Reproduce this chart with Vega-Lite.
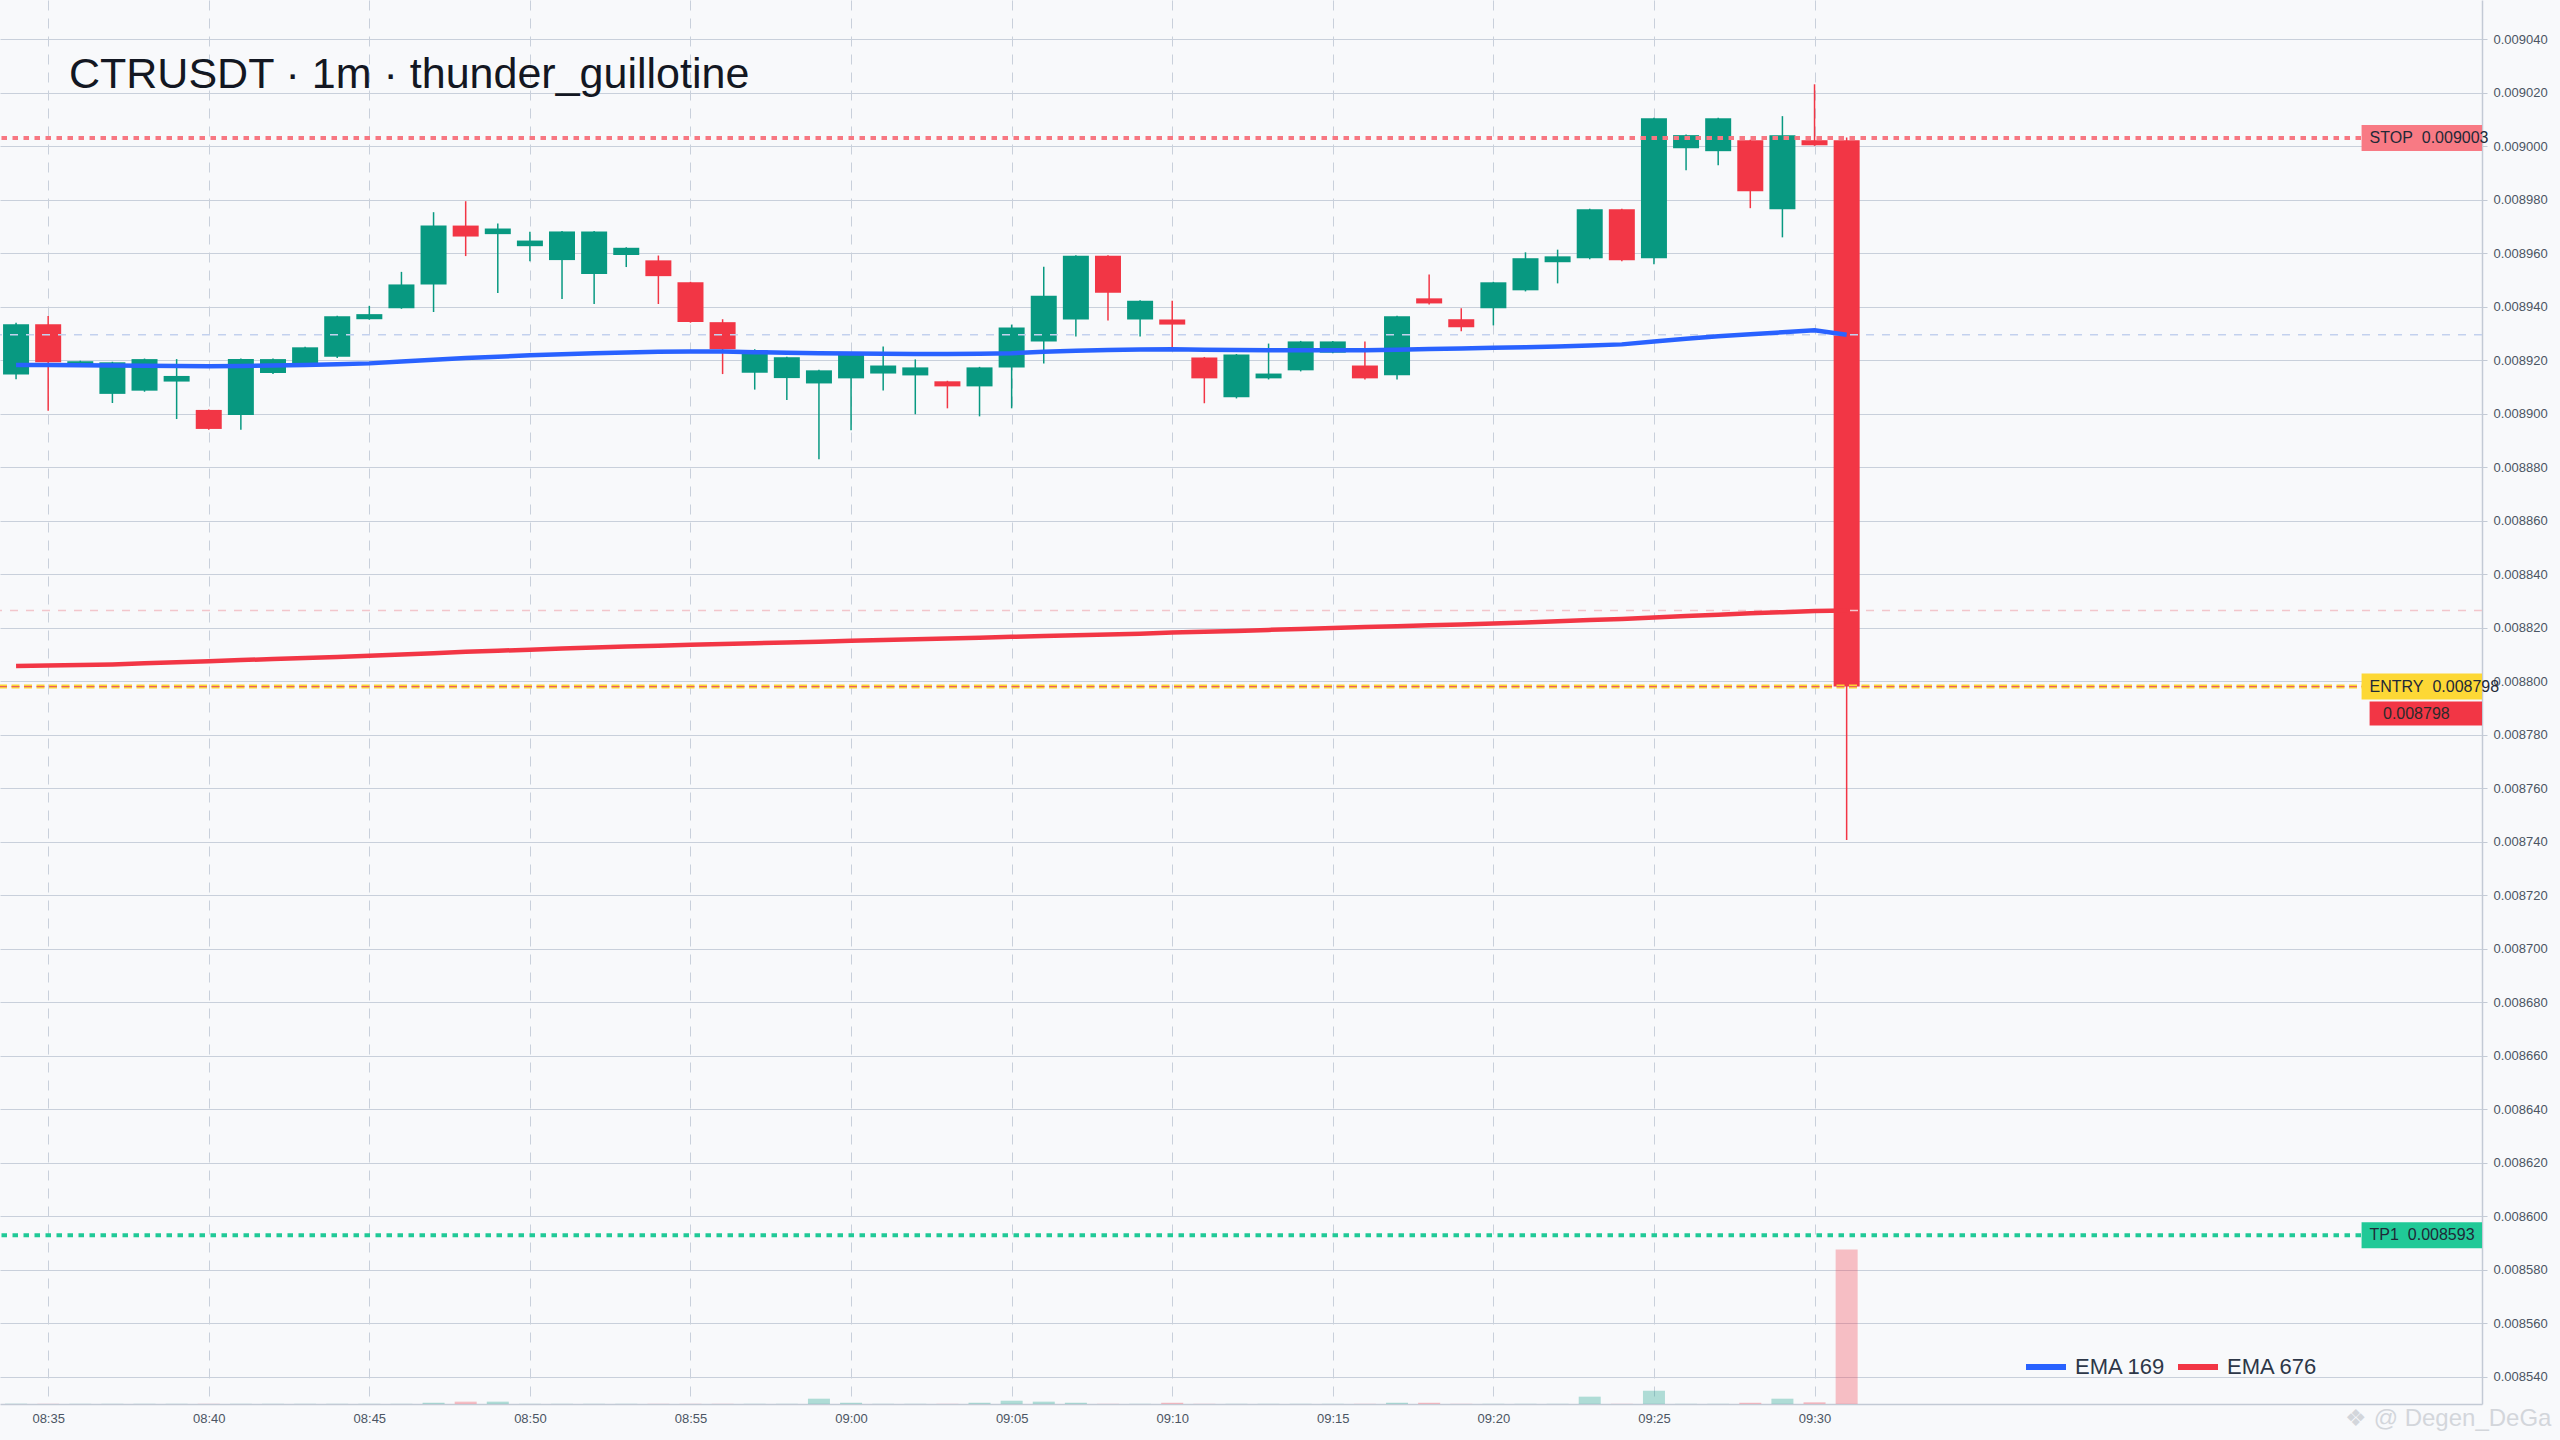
{
  "$schema": "https://vega.github.io/schema/vega-lite/v6.json",
  "width": 2482,
  "height": 1404,
  "autosize": {"type": "none"},
  "padding": {"left": 0, "top": 0, "right": 78, "bottom": 36},
  "background": "#f8f9fb",
  "title": {
    "text": "CTRUSDT · 1m · thunder_guillotine",
    "anchor": "start",
    "frame": "group",
    "orient": "top",
    "offset": 0,
    "dx": 69,
    "dy": 131,
    "baseline": "alphabetic",
    "font": "Liberation Sans",
    "fontSize": 43,
    "fontWeight": "normal",
    "color": "#131722"
  },
  "config": {
    "view": {"stroke": null},
    "font": "Liberation Sans"
  },
  "datasets": {
    "candles": [
      {"t": "2024-01-01T08:34:00Z", "o": 0.0089146, "h": 0.0089340, "l": 0.0089129, "c": 0.0089334, "v": 0.1},
      {"t": "2024-01-01T08:35:00Z", "o": 0.0089334, "h": 0.0089365, "l": 0.0089011, "c": 0.0089192, "v": 0.1},
      {"t": "2024-01-01T08:36:00Z", "o": 0.0089178, "h": 0.0089198, "l": 0.0089175, "c": 0.0089196, "v": 0.1},
      {"t": "2024-01-01T08:37:00Z", "o": 0.0089074, "h": 0.0089194, "l": 0.0089040, "c": 0.0089192, "v": 0.1},
      {"t": "2024-01-01T08:38:00Z", "o": 0.0089086, "h": 0.0089206, "l": 0.0089082, "c": 0.0089204, "v": 0.1},
      {"t": "2024-01-01T08:39:00Z", "o": 0.0089120, "h": 0.0089204, "l": 0.0088980, "c": 0.0089141, "v": 0.1},
      {"t": "2024-01-01T08:40:00Z", "o": 0.0089014, "h": 0.0089016, "l": 0.0088940, "c": 0.0088943, "v": 0.1},
      {"t": "2024-01-01T08:41:00Z", "o": 0.0088995, "h": 0.0089206, "l": 0.0088940, "c": 0.0089204, "v": 0.1},
      {"t": "2024-01-01T08:42:00Z", "o": 0.0089152, "h": 0.0089206, "l": 0.0089148, "c": 0.0089204, "v": 0.1},
      {"t": "2024-01-01T08:43:00Z", "o": 0.0089179, "h": 0.0089250, "l": 0.0089177, "c": 0.0089248, "v": 0.1},
      {"t": "2024-01-01T08:44:00Z", "o": 0.0089213, "h": 0.0089366, "l": 0.0089208, "c": 0.0089364, "v": 0.1},
      {"t": "2024-01-01T08:45:00Z", "o": 0.0089353, "h": 0.0089403, "l": 0.0089351, "c": 0.0089372, "v": 0.1},
      {"t": "2024-01-01T08:46:00Z", "o": 0.0089394, "h": 0.0089530, "l": 0.0089392, "c": 0.0089483, "v": 0.1},
      {"t": "2024-01-01T08:47:00Z", "o": 0.0089483, "h": 0.0089753, "l": 0.0089380, "c": 0.0089703, "v": 0.8},
      {"t": "2024-01-01T08:48:00Z", "o": 0.0089703, "h": 0.0089794, "l": 0.0089589, "c": 0.0089662, "v": 1.5},
      {"t": "2024-01-01T08:49:00Z", "o": 0.0089671, "h": 0.0089711, "l": 0.0089451, "c": 0.0089692, "v": 1.5},
      {"t": "2024-01-01T08:50:00Z", "o": 0.0089626, "h": 0.0089680, "l": 0.0089570, "c": 0.0089647, "v": 0.1},
      {"t": "2024-01-01T08:51:00Z", "o": 0.0089574, "h": 0.0089683, "l": 0.0089429, "c": 0.0089681, "v": 0.1},
      {"t": "2024-01-01T08:52:00Z", "o": 0.0089522, "h": 0.0089683, "l": 0.0089410, "c": 0.0089681, "v": 0.1},
      {"t": "2024-01-01T08:53:00Z", "o": 0.0089593, "h": 0.0089622, "l": 0.0089548, "c": 0.0089620, "v": 0.1},
      {"t": "2024-01-01T08:54:00Z", "o": 0.0089573, "h": 0.0089591, "l": 0.0089410, "c": 0.0089514, "v": 0.1},
      {"t": "2024-01-01T08:55:00Z", "o": 0.0089491, "h": 0.0089493, "l": 0.0089340, "c": 0.0089343, "v": 0.1},
      {"t": "2024-01-01T08:56:00Z", "o": 0.0089342, "h": 0.0089353, "l": 0.0089148, "c": 0.0089241, "v": 0.1},
      {"t": "2024-01-01T08:57:00Z", "o": 0.0089153, "h": 0.0089241, "l": 0.0089090, "c": 0.0089237, "v": 0.1},
      {"t": "2024-01-01T08:58:00Z", "o": 0.0089133, "h": 0.0089213, "l": 0.0089051, "c": 0.0089211, "v": 0.1},
      {"t": "2024-01-01T08:59:00Z", "o": 0.0089113, "h": 0.0089164, "l": 0.0088830, "c": 0.0089162, "v": 3.4},
      {"t": "2024-01-01T09:00:00Z", "o": 0.0089132, "h": 0.0089223, "l": 0.0088938, "c": 0.0089221, "v": 0.8},
      {"t": "2024-01-01T09:01:00Z", "o": 0.0089150, "h": 0.0089251, "l": 0.0089087, "c": 0.0089180, "v": 0.1},
      {"t": "2024-01-01T09:02:00Z", "o": 0.0089143, "h": 0.0089203, "l": 0.0088998, "c": 0.0089173, "v": 0.1},
      {"t": "2024-01-01T09:03:00Z", "o": 0.0089121, "h": 0.0089123, "l": 0.0089020, "c": 0.0089102, "v": 0.1},
      {"t": "2024-01-01T09:04:00Z", "o": 0.0089102, "h": 0.0089175, "l": 0.0088990, "c": 0.0089173, "v": 0.8},
      {"t": "2024-01-01T09:05:00Z", "o": 0.0089173, "h": 0.0089333, "l": 0.0089020, "c": 0.0089322, "v": 2.1},
      {"t": "2024-01-01T09:06:00Z", "o": 0.0089270, "h": 0.0089549, "l": 0.0089188, "c": 0.0089441, "v": 1.5},
      {"t": "2024-01-01T09:07:00Z", "o": 0.0089352, "h": 0.0089592, "l": 0.0089288, "c": 0.0089590, "v": 0.8},
      {"t": "2024-01-01T09:08:00Z", "o": 0.0089590, "h": 0.0089592, "l": 0.0089348, "c": 0.0089452, "v": 0.1},
      {"t": "2024-01-01T09:09:00Z", "o": 0.0089352, "h": 0.0089424, "l": 0.0089288, "c": 0.0089422, "v": 0.1},
      {"t": "2024-01-01T09:10:00Z", "o": 0.0089352, "h": 0.0089422, "l": 0.0089247, "c": 0.0089333, "v": 0.8},
      {"t": "2024-01-01T09:11:00Z", "o": 0.0089210, "h": 0.0089212, "l": 0.0089039, "c": 0.0089132, "v": 0.1},
      {"t": "2024-01-01T09:12:00Z", "o": 0.0089061, "h": 0.0089223, "l": 0.0089057, "c": 0.0089221, "v": 0.1},
      {"t": "2024-01-01T09:13:00Z", "o": 0.0089132, "h": 0.0089262, "l": 0.0089128, "c": 0.0089150, "v": 0.1},
      {"t": "2024-01-01T09:14:00Z", "o": 0.0089162, "h": 0.0089272, "l": 0.0089158, "c": 0.0089270, "v": 0.1},
      {"t": "2024-01-01T09:15:00Z", "o": 0.0089228, "h": 0.0089272, "l": 0.0089226, "c": 0.0089270, "v": 0.1},
      {"t": "2024-01-01T09:16:00Z", "o": 0.0089180, "h": 0.0089270, "l": 0.0089128, "c": 0.0089132, "v": 0.1},
      {"t": "2024-01-01T09:17:00Z", "o": 0.0089144, "h": 0.0089366, "l": 0.0089128, "c": 0.0089364, "v": 0.8},
      {"t": "2024-01-01T09:18:00Z", "o": 0.0089431, "h": 0.0089520, "l": 0.0089408, "c": 0.0089412, "v": 0.8},
      {"t": "2024-01-01T09:19:00Z", "o": 0.0089353, "h": 0.0089394, "l": 0.0089308, "c": 0.0089323, "v": 0.1},
      {"t": "2024-01-01T09:20:00Z", "o": 0.0089394, "h": 0.0089493, "l": 0.0089330, "c": 0.0089491, "v": 0.1},
      {"t": "2024-01-01T09:21:00Z", "o": 0.0089461, "h": 0.0089603, "l": 0.0089457, "c": 0.0089581, "v": 0.1},
      {"t": "2024-01-01T09:22:00Z", "o": 0.0089566, "h": 0.0089613, "l": 0.0089487, "c": 0.0089588, "v": 0.1},
      {"t": "2024-01-01T09:23:00Z", "o": 0.0089581, "h": 0.0089766, "l": 0.0089577, "c": 0.0089764, "v": 4.7},
      {"t": "2024-01-01T09:24:00Z", "o": 0.0089764, "h": 0.0089766, "l": 0.0089570, "c": 0.0089573, "v": 0.1},
      {"t": "2024-01-01T09:25:00Z", "o": 0.0089581, "h": 0.0090106, "l": 0.0089558, "c": 0.0090104, "v": 8.5},
      {"t": "2024-01-01T09:26:00Z", "o": 0.0089992, "h": 0.0090043, "l": 0.0089910, "c": 0.0090041, "v": 0.1},
      {"t": "2024-01-01T09:27:00Z", "o": 0.0089981, "h": 0.0090106, "l": 0.0089928, "c": 0.0090104, "v": 0.1},
      {"t": "2024-01-01T09:28:00Z", "o": 0.0090022, "h": 0.0090024, "l": 0.0089768, "c": 0.0089831, "v": 0.8},
      {"t": "2024-01-01T09:29:00Z", "o": 0.0089764, "h": 0.0090112, "l": 0.0089659, "c": 0.0090041, "v": 3.4},
      {"t": "2024-01-01T09:30:00Z", "o": 0.0090022, "h": 0.0090231, "l": 0.0090001, "c": 0.0090003, "v": 1.1},
      {"t": "2024-01-01T09:31:00Z", "o": 0.0090022, "h": 0.0090032, "l": 0.0087407, "c": 0.0087980, "v": 99}
    ],
    "ema": [
      {"t": "2024-01-01T08:34:00Z", "series": "EMA 169", "v": 0.0089182},
      {"t": "2024-01-01T08:35:00Z", "series": "EMA 169", "v": 0.0089182},
      {"t": "2024-01-01T08:36:00Z", "series": "EMA 169", "v": 0.0089181},
      {"t": "2024-01-01T08:37:00Z", "series": "EMA 169", "v": 0.0089180},
      {"t": "2024-01-01T08:38:00Z", "series": "EMA 169", "v": 0.0089179},
      {"t": "2024-01-01T08:39:00Z", "series": "EMA 169", "v": 0.0089178},
      {"t": "2024-01-01T08:40:00Z", "series": "EMA 169", "v": 0.0089177},
      {"t": "2024-01-01T08:41:00Z", "series": "EMA 169", "v": 0.0089178},
      {"t": "2024-01-01T08:42:00Z", "series": "EMA 169", "v": 0.0089180},
      {"t": "2024-01-01T08:43:00Z", "series": "EMA 169", "v": 0.0089182},
      {"t": "2024-01-01T08:44:00Z", "series": "EMA 169", "v": 0.0089185},
      {"t": "2024-01-01T08:45:00Z", "series": "EMA 169", "v": 0.0089188},
      {"t": "2024-01-01T08:46:00Z", "series": "EMA 169", "v": 0.0089195},
      {"t": "2024-01-01T08:47:00Z", "series": "EMA 169", "v": 0.0089202},
      {"t": "2024-01-01T08:48:00Z", "series": "EMA 169", "v": 0.0089208},
      {"t": "2024-01-01T08:49:00Z", "series": "EMA 169", "v": 0.0089213},
      {"t": "2024-01-01T08:50:00Z", "series": "EMA 169", "v": 0.0089218},
      {"t": "2024-01-01T08:51:00Z", "series": "EMA 169", "v": 0.0089222},
      {"t": "2024-01-01T08:52:00Z", "series": "EMA 169", "v": 0.0089226},
      {"t": "2024-01-01T08:53:00Z", "series": "EMA 169", "v": 0.0089229},
      {"t": "2024-01-01T08:54:00Z", "series": "EMA 169", "v": 0.0089231},
      {"t": "2024-01-01T08:55:00Z", "series": "EMA 169", "v": 0.0089232},
      {"t": "2024-01-01T08:56:00Z", "series": "EMA 169", "v": 0.0089232},
      {"t": "2024-01-01T08:57:00Z", "series": "EMA 169", "v": 0.0089230},
      {"t": "2024-01-01T08:58:00Z", "series": "EMA 169", "v": 0.0089228},
      {"t": "2024-01-01T08:59:00Z", "series": "EMA 169", "v": 0.0089226},
      {"t": "2024-01-01T09:00:00Z", "series": "EMA 169", "v": 0.0089225},
      {"t": "2024-01-01T09:01:00Z", "series": "EMA 169", "v": 0.0089224},
      {"t": "2024-01-01T09:02:00Z", "series": "EMA 169", "v": 0.0089223},
      {"t": "2024-01-01T09:03:00Z", "series": "EMA 169", "v": 0.0089223},
      {"t": "2024-01-01T09:04:00Z", "series": "EMA 169", "v": 0.0089224},
      {"t": "2024-01-01T09:05:00Z", "series": "EMA 169", "v": 0.0089226},
      {"t": "2024-01-01T09:06:00Z", "series": "EMA 169", "v": 0.0089231},
      {"t": "2024-01-01T09:07:00Z", "series": "EMA 169", "v": 0.0089235},
      {"t": "2024-01-01T09:08:00Z", "series": "EMA 169", "v": 0.0089238},
      {"t": "2024-01-01T09:09:00Z", "series": "EMA 169", "v": 0.0089240},
      {"t": "2024-01-01T09:10:00Z", "series": "EMA 169", "v": 0.0089241},
      {"t": "2024-01-01T09:11:00Z", "series": "EMA 169", "v": 0.0089239},
      {"t": "2024-01-01T09:12:00Z", "series": "EMA 169", "v": 0.0089238},
      {"t": "2024-01-01T09:13:00Z", "series": "EMA 169", "v": 0.0089237},
      {"t": "2024-01-01T09:14:00Z", "series": "EMA 169", "v": 0.0089237},
      {"t": "2024-01-01T09:15:00Z", "series": "EMA 169", "v": 0.0089237},
      {"t": "2024-01-01T09:16:00Z", "series": "EMA 169", "v": 0.0089237},
      {"t": "2024-01-01T09:17:00Z", "series": "EMA 169", "v": 0.0089239},
      {"t": "2024-01-01T09:18:00Z", "series": "EMA 169", "v": 0.0089242},
      {"t": "2024-01-01T09:19:00Z", "series": "EMA 169", "v": 0.0089244},
      {"t": "2024-01-01T09:20:00Z", "series": "EMA 169", "v": 0.0089246},
      {"t": "2024-01-01T09:21:00Z", "series": "EMA 169", "v": 0.0089248},
      {"t": "2024-01-01T09:22:00Z", "series": "EMA 169", "v": 0.0089251},
      {"t": "2024-01-01T09:23:00Z", "series": "EMA 169", "v": 0.0089255},
      {"t": "2024-01-01T09:24:00Z", "series": "EMA 169", "v": 0.0089259},
      {"t": "2024-01-01T09:25:00Z", "series": "EMA 169", "v": 0.0089270},
      {"t": "2024-01-01T09:26:00Z", "series": "EMA 169", "v": 0.0089280},
      {"t": "2024-01-01T09:27:00Z", "series": "EMA 169", "v": 0.0089289},
      {"t": "2024-01-01T09:28:00Z", "series": "EMA 169", "v": 0.0089297},
      {"t": "2024-01-01T09:29:00Z", "series": "EMA 169", "v": 0.0089304},
      {"t": "2024-01-01T09:30:00Z", "series": "EMA 169", "v": 0.0089312},
      {"t": "2024-01-01T09:31:00Z", "series": "EMA 169", "v": 0.0089295},
      {"t": "2024-01-01T08:34:00Z", "series": "EMA 676", "v": 0.0088057},
      {"t": "2024-01-01T08:35:00Z", "series": "EMA 676", "v": 0.0088059},
      {"t": "2024-01-01T08:36:00Z", "series": "EMA 676", "v": 0.0088061},
      {"t": "2024-01-01T08:37:00Z", "series": "EMA 676", "v": 0.0088063},
      {"t": "2024-01-01T08:38:00Z", "series": "EMA 676", "v": 0.0088067},
      {"t": "2024-01-01T08:39:00Z", "series": "EMA 676", "v": 0.0088071},
      {"t": "2024-01-01T08:40:00Z", "series": "EMA 676", "v": 0.0088075},
      {"t": "2024-01-01T08:41:00Z", "series": "EMA 676", "v": 0.0088079},
      {"t": "2024-01-01T08:42:00Z", "series": "EMA 676", "v": 0.0088083},
      {"t": "2024-01-01T08:43:00Z", "series": "EMA 676", "v": 0.0088087},
      {"t": "2024-01-01T08:44:00Z", "series": "EMA 676", "v": 0.0088091},
      {"t": "2024-01-01T08:45:00Z", "series": "EMA 676", "v": 0.0088095},
      {"t": "2024-01-01T08:46:00Z", "series": "EMA 676", "v": 0.0088100},
      {"t": "2024-01-01T08:47:00Z", "series": "EMA 676", "v": 0.0088105},
      {"t": "2024-01-01T08:48:00Z", "series": "EMA 676", "v": 0.0088110},
      {"t": "2024-01-01T08:49:00Z", "series": "EMA 676", "v": 0.0088114},
      {"t": "2024-01-01T08:50:00Z", "series": "EMA 676", "v": 0.0088118},
      {"t": "2024-01-01T08:51:00Z", "series": "EMA 676", "v": 0.0088122},
      {"t": "2024-01-01T08:52:00Z", "series": "EMA 676", "v": 0.0088126},
      {"t": "2024-01-01T08:53:00Z", "series": "EMA 676", "v": 0.0088130},
      {"t": "2024-01-01T08:54:00Z", "series": "EMA 676", "v": 0.0088133},
      {"t": "2024-01-01T08:55:00Z", "series": "EMA 676", "v": 0.0088136},
      {"t": "2024-01-01T08:56:00Z", "series": "EMA 676", "v": 0.0088139},
      {"t": "2024-01-01T08:57:00Z", "series": "EMA 676", "v": 0.0088142},
      {"t": "2024-01-01T08:58:00Z", "series": "EMA 676", "v": 0.0088145},
      {"t": "2024-01-01T08:59:00Z", "series": "EMA 676", "v": 0.0088148},
      {"t": "2024-01-01T09:00:00Z", "series": "EMA 676", "v": 0.0088151},
      {"t": "2024-01-01T09:01:00Z", "series": "EMA 676", "v": 0.0088154},
      {"t": "2024-01-01T09:02:00Z", "series": "EMA 676", "v": 0.0088157},
      {"t": "2024-01-01T09:03:00Z", "series": "EMA 676", "v": 0.0088160},
      {"t": "2024-01-01T09:04:00Z", "series": "EMA 676", "v": 0.0088163},
      {"t": "2024-01-01T09:05:00Z", "series": "EMA 676", "v": 0.0088166},
      {"t": "2024-01-01T09:06:00Z", "series": "EMA 676", "v": 0.0088169},
      {"t": "2024-01-01T09:07:00Z", "series": "EMA 676", "v": 0.0088172},
      {"t": "2024-01-01T09:08:00Z", "series": "EMA 676", "v": 0.0088175},
      {"t": "2024-01-01T09:09:00Z", "series": "EMA 676", "v": 0.0088178},
      {"t": "2024-01-01T09:10:00Z", "series": "EMA 676", "v": 0.0088182},
      {"t": "2024-01-01T09:11:00Z", "series": "EMA 676", "v": 0.0088185},
      {"t": "2024-01-01T09:12:00Z", "series": "EMA 676", "v": 0.0088188},
      {"t": "2024-01-01T09:13:00Z", "series": "EMA 676", "v": 0.0088192},
      {"t": "2024-01-01T09:14:00Z", "series": "EMA 676", "v": 0.0088195},
      {"t": "2024-01-01T09:15:00Z", "series": "EMA 676", "v": 0.0088199},
      {"t": "2024-01-01T09:16:00Z", "series": "EMA 676", "v": 0.0088203},
      {"t": "2024-01-01T09:17:00Z", "series": "EMA 676", "v": 0.0088206},
      {"t": "2024-01-01T09:18:00Z", "series": "EMA 676", "v": 0.0088209},
      {"t": "2024-01-01T09:19:00Z", "series": "EMA 676", "v": 0.0088212},
      {"t": "2024-01-01T09:20:00Z", "series": "EMA 676", "v": 0.0088216},
      {"t": "2024-01-01T09:21:00Z", "series": "EMA 676", "v": 0.0088220},
      {"t": "2024-01-01T09:22:00Z", "series": "EMA 676", "v": 0.0088224},
      {"t": "2024-01-01T09:23:00Z", "series": "EMA 676", "v": 0.0088229},
      {"t": "2024-01-01T09:24:00Z", "series": "EMA 676", "v": 0.0088233},
      {"t": "2024-01-01T09:25:00Z", "series": "EMA 676", "v": 0.0088238},
      {"t": "2024-01-01T09:26:00Z", "series": "EMA 676", "v": 0.0088244},
      {"t": "2024-01-01T09:27:00Z", "series": "EMA 676", "v": 0.0088249},
      {"t": "2024-01-01T09:28:00Z", "series": "EMA 676", "v": 0.0088254},
      {"t": "2024-01-01T09:29:00Z", "series": "EMA 676", "v": 0.0088258},
      {"t": "2024-01-01T09:30:00Z", "series": "EMA 676", "v": 0.0088263},
      {"t": "2024-01-01T09:31:00Z", "series": "EMA 676", "v": 0.0088264}
    ],
    "levels": [
      {"name": "STOP", "p": 0.009003, "label": "STOP\u00a0\u00a00.009003"},
      {"name": "ENTRY", "p": 0.008798, "label": "ENTRY\u00a0\u00a00.008798"},
      {"name": "TP1", "p": 0.008593, "label": "TP1\u00a0\u00a00.008593"},
      {"name": "LAST", "p": 0.008798, "label": "0.008798"},
      {"name": "EMA169_LAST", "p": 0.0089295, "label": "EMA 169"},
      {"name": "EMA676_LAST", "p": 0.0088264, "label": "EMA 676"}
    ]
  },
  "layer": [
    {
      "data": {"name": "candles"},
      "mark": {"type": "bar", "width": 22, "opacity": 0.3},
      "encoding": {
        "x": {"field": "t", "type": "temporal"},
        "y": {
          "field": "v",
          "type": "quantitative",
          "scale": {"domain": [0, 900], "nice": false},
          "axis": null
        },
        "color": {
          "condition": {"test": "datum.c >= datum.o", "value": "#089981"},
          "value": "#f23645"
        }
      }
    },
    {
      "layer": [
        {
          "data": {"name": "candles"},
          "mark": {"type": "rule", "strokeWidth": 1.5},
          "encoding": {
            "x": {
              "field": "t",
              "type": "temporal",
              "scale": {"type": "utc", "domain": [1704098010000, 1704102647000], "nice": false, "padding": 0},
              "axis": {
                "title": null,
                "format": "%H:%M",
                "values": [1704098100000, 1704098400000, 1704098700000, 1704099000000, 1704099300000, 1704099600000, 1704099900000, 1704100200000, 1704100500000, 1704100800000, 1704101100000, 1704101400000],
                "grid": true,
                "gridDash": [10, 8],
                "gridColor": "#c9d0db",
                "gridWidth": 1,
                "domainColor": "#c3cad5",
                "domainWidth": 1.5,
                "ticks": false,
                "labelFontSize": 13,
                "labelColor": "#4b5563",
                "labelPadding": 8,
                "labelFlush": false
              }
            },
            "y": {
              "field": "l",
              "type": "quantitative",
              "scale": {"domain": [0.0085299, 0.0090546], "nice": false, "zero": false, "padding": 0},
              "axis": {
                "orient": "right",
                "title": null,
                "format": ".6f",
                "tickCount": 26,
                "grid": true,
                "gridColor": "#c9d0db",
                "gridWidth": 1,
                "domainColor": "#c3cad5",
                "domainWidth": 1.5,
                "tickColor": "#c3cad5",
                "tickSize": 5,
                "labelFontSize": 13,
                "labelColor": "#4b5563",
                "labelPadding": 6
              }
            },
            "y2": {"field": "h"},
            "color": {
              "condition": {"test": "datum.c >= datum.o", "value": "#089981"},
              "value": "#f23645"
            }
          }
        },
        {
          "data": {"name": "candles"},
          "mark": {"type": "bar", "width": 26},
          "encoding": {
            "x": {"field": "t", "type": "temporal"},
            "y": {"field": "o", "type": "quantitative"},
            "y2": {"field": "c"},
            "color": {
              "condition": {"test": "datum.c >= datum.o", "value": "#089981"},
              "value": "#f23645"
            }
          }
        },
        {
          "data": {"name": "levels"},
          "transform": [{"filter": "datum.name === 'EMA169_LAST' || datum.name === 'EMA676_LAST'"}],
          "mark": {"type": "rule", "strokeWidth": 1.5, "strokeDash": [8, 8]},
          "encoding": {
            "y": {"field": "p", "type": "quantitative"},
            "color": {
              "condition": {"test": "datum.name === 'EMA169_LAST'", "value": "#c3d1ee"},
              "value": "#f2c6cc"
            }
          }
        },
        {
          "data": {"name": "ema"},
          "mark": {"type": "line", "strokeWidth": 4.5},
          "encoding": {
            "x": {"field": "t", "type": "temporal"},
            "y": {"field": "v", "type": "quantitative"},
            "color": {
              "field": "series",
              "type": "nominal",
              "scale": {"domain": ["EMA 169", "EMA 676"], "range": ["#2962ff", "#f23645"]},
              "legend": {
                "title": null,
                "orient": "none",
                "legendX": 2023,
                "legendY": 1344,
                "direction": "horizontal",
                "symbolType": "stroke",
                "symbolSize": 1600,
                "symbolStrokeWidth": 6,
                "labelFontSize": 22,
                "labelColor": "#2d3748",
                "labelOffset": 6,
                "columnPadding": 0,
                "padding": 0
              }
            }
          }
        },
        {
          "data": {"name": "levels"},
          "transform": [{"filter": "datum.name === 'STOP'"}],
          "mark": {"type": "rule", "strokeWidth": 4, "strokeDash": [5.5, 5.5], "color": "#f77782"},
          "encoding": {"y": {"field": "p", "type": "quantitative"}}
        },
        {
          "data": {"name": "levels"},
          "transform": [{"filter": "datum.name === 'TP1'"}],
          "mark": {"type": "rule", "strokeWidth": 4, "strokeDash": [5.5, 5.5], "color": "#20c997"},
          "encoding": {"y": {"field": "p", "type": "quantitative"}}
        },
        {
          "data": {"name": "levels"},
          "transform": [{"filter": "datum.name === 'ENTRY'"}],
          "mark": {"type": "rule", "strokeWidth": 4, "strokeDash": [8, 4.5], "color": "#fcd535"},
          "encoding": {"y": {"field": "p", "type": "quantitative"}}
        },
        {
          "data": {"name": "levels"},
          "transform": [{"filter": "datum.name === 'LAST'"}],
          "mark": {"type": "rule", "strokeWidth": 1, "strokeDash": [8, 4.5], "color": "#e8506a"},
          "encoding": {"y": {"field": "p", "type": "quantitative"}}
        },
        {
          "data": {"name": "levels"},
          "transform": [{"filter": "datum.name === 'STOP'"}],
          "mark": {"type": "bar", "orient": "horizontal", "height": 26, "color": "#f87a84"},
          "encoding": {
            "x": {"datum": 1704102422000, "type": "temporal"},
            "x2": {"datum": 1704102647000},
            "y": {"field": "p", "type": "quantitative"}
          }
        },
        {
          "data": {"name": "levels"},
          "transform": [{"filter": "datum.name === 'ENTRY'"}],
          "mark": {"type": "bar", "orient": "horizontal", "height": 26, "color": "#fdd835"},
          "encoding": {
            "x": {"datum": 1704102422000, "type": "temporal"},
            "x2": {"datum": 1704102647000},
            "y": {"field": "p", "type": "quantitative"}
          }
        },
        {
          "data": {"name": "levels"},
          "transform": [{"filter": "datum.name === 'TP1'"}],
          "mark": {"type": "bar", "orient": "horizontal", "height": 26, "color": "#20c997"},
          "encoding": {
            "x": {"datum": 1704102422000, "type": "temporal"},
            "x2": {"datum": 1704102647000},
            "y": {"field": "p", "type": "quantitative"}
          }
        },
        {
          "data": {"name": "levels"},
          "transform": [{"filter": "datum.name === 'LAST'"}],
          "mark": {"type": "bar", "orient": "horizontal", "height": 24, "yOffset": 27, "color": "#f23645"},
          "encoding": {
            "x": {"datum": 1704102437000, "type": "temporal"},
            "x2": {"datum": 1704102647000},
            "y": {"field": "p", "type": "quantitative"}
          }
        },
        {
          "data": {"name": "levels"},
          "transform": [{"filter": "datum.name === 'STOP' || datum.name === 'ENTRY' || datum.name === 'TP1'"}],
          "mark": {"type": "text", "align": "left", "baseline": "middle", "fontSize": 16, "color": "#1f2937"},
          "encoding": {
            "x": {"datum": 1704102437000, "type": "temporal"},
            "y": {"field": "p", "type": "quantitative"},
            "text": {"field": "label"}
          }
        },
        {
          "data": {"name": "levels"},
          "transform": [{"filter": "datum.name === 'LAST'"}],
          "mark": {"type": "text", "align": "left", "baseline": "middle", "fontSize": 16, "dy": 27, "color": "#2b2b2b"},
          "encoding": {
            "x": {"datum": 1704102462000, "type": "temporal"},
            "y": {"field": "p", "type": "quantitative"},
            "text": {"field": "label"}
          }
        },
        {
          "data": {"values": [{"label": "❖ @ Degen_DeGa"}]},
          "mark": {"type": "text", "align": "left", "baseline": "middle", "fontSize": 24, "dy": 15, "color": "#d3d6db"},
          "encoding": {
            "x": {"datum": 1704102391000, "type": "temporal"},
            "y": {"datum": 0.0085299, "type": "quantitative"},
            "text": {"field": "label"}
          }
        }
      ]
    }
  ],
  "resolve": {"scale": {"y": "independent"}}
}
